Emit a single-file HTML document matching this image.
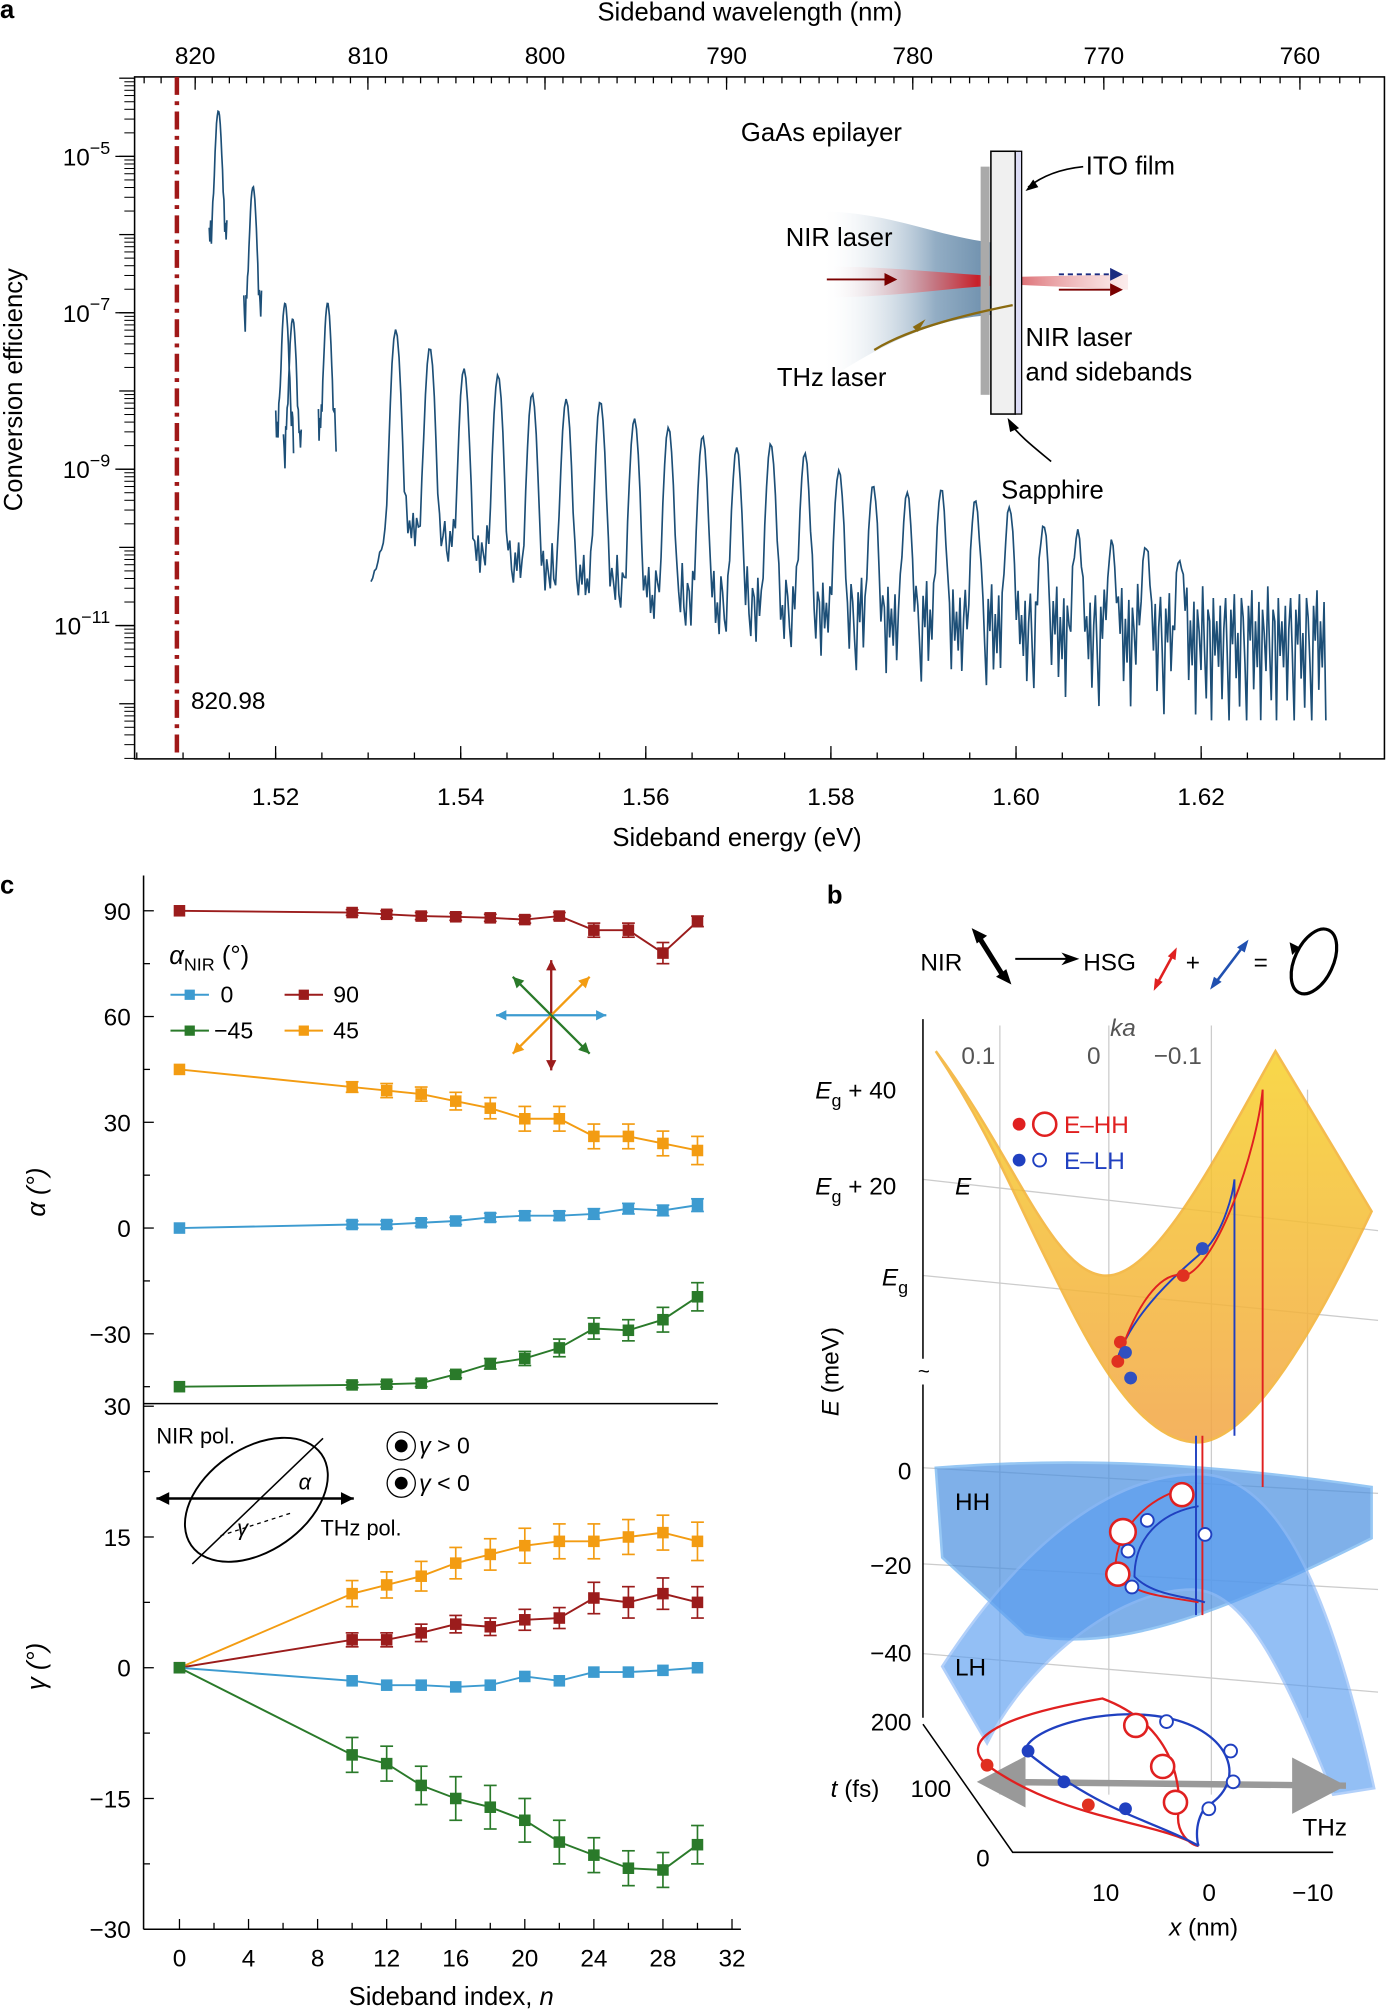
<!DOCTYPE html>
<html><head><meta charset="utf-8"><style>
html,body{margin:0;padding:0;background:#fff}
svg{display:block;font-family:"Liberation Sans",Arial,sans-serif}
</style></head><body>
<svg id="fig" width="1387" height="2010" viewBox="0 0 1082 1568" xmlns="http://www.w3.org/2000/svg">
<defs>
<linearGradient id="beamG" x1="0" x2="1" y1="0" y2="0"><stop offset="0" stop-color="#fff" stop-opacity="0"/><stop offset="0.6" stop-color="#5f86a8" stop-opacity="0.8"/><stop offset="1" stop-color="#3e6a90"/></linearGradient>
<linearGradient id="redG" x1="0" x2="1"><stop offset="0" stop-color="#fff" stop-opacity="0"/><stop offset="0.5" stop-color="#c8202a"/><stop offset="1" stop-color="#f3c0c0" stop-opacity="0.3"/></linearGradient>
<linearGradient id="yelG" x1="0" x2="0" y1="0" y2="1"><stop offset="0" stop-color="#f7d12a"/><stop offset="1" stop-color="#f3a545"/></linearGradient>
</defs>

<text x="0" y="14" font-size="20" font-weight="bold">a</text>
<rect x="105" y="60" width="975" height="532" fill="none" stroke="#000" stroke-width="1.2"/>
<text x="585" y="16" font-size="20" text-anchor="middle">Sideband wavelength (nm)</text>
<text x="575" y="660" font-size="20" text-anchor="middle">Sideband energy (eV)</text>
<text transform="translate(17,304) rotate(-90)" font-size="20" text-anchor="middle">Conversion efficiency</text>
<g id="axA"></g>
<line x1="138" y1="60" x2="138" y2="592" stroke="#a01818" stroke-width="3.5" stroke-dasharray="14,5,3,5"/>
<text x="149" y="553" font-size="19">820.98</text>
<g id="spec"></g>

<g>
<path d="M640,165 C700,165 740,190 790,190 L790,245 C740,245 700,260 640,300 Z" fill="url(#beamG)" opacity="0.85"/>
<path d="M645,208 C700,208 740,214 790,216 L880,214 L880,226 L790,222 C740,224 700,232 645,232 Z" fill="url(#redG)"/>
<rect x="765" y="130" width="7" height="178" fill="#aaa"/>
<rect x="773" y="118" width="19" height="205" fill="#f0f0f0" stroke="#000" stroke-width="1.2"/>
<rect x="792" y="118" width="5" height="205" fill="#dcdcf5" stroke="#000" stroke-width="1"/>
<line x1="645" y1="218" x2="690" y2="218" stroke="#7a0000" stroke-width="1.5"/><path d="M690,213 L700,218 L690,223Z" fill="#7a0000"/>
<line x1="826" y1="226" x2="866" y2="226" stroke="#7a0000" stroke-width="1.5"/><path d="M866,221 L876,226 L866,231Z" fill="#7a0000"/>
<line x1="826" y1="214" x2="866" y2="214" stroke="#1a2a80" stroke-width="1.5" stroke-dasharray="4,3"/><path d="M866,209 L876,214 L866,219Z" fill="#1a2a80"/>
<path d="M682,273 C700,262 730,250 790,238" fill="none" stroke="#8a6a10" stroke-width="1.8"/><path d="M712,255 L722,249 L716,259Z" fill="#8a6a10"/>
<path d="M845,130 C825,132 812,138 802,146" fill="none" stroke="#000" stroke-width="1.3"/><path d="M800,149 L806,140 L810,146Z"/>
<path d="M820,360 C808,350 795,340 788,330" fill="none" stroke="#000" stroke-width="1.3"/><path d="M786,326 L795,334 L788,337Z"/>
<text x="578" y="110" font-size="20">GaAs epilayer</text>
<text x="847" y="136" font-size="20">ITO film</text>
<text x="613" y="192" font-size="20">NIR laser</text>
<text x="606" y="301" font-size="20">THz laser</text>
<text x="800" y="270" font-size="20">NIR laser</text>
<text x="800" y="297" font-size="20">and sidebands</text>
<text x="781" y="389" font-size="20">Sapphire</text>
</g>

<text x="0" y="697" font-size="20" font-weight="bold">c</text>
<g id="axC"></g>
<text transform="translate(35,930) rotate(-90)" font-size="20" text-anchor="middle" font-style="italic">α (°)</text>
<text transform="translate(35,1300) rotate(-90)" font-size="20" text-anchor="middle" font-style="italic">γ (°)</text>
<text x="352" y="1564" font-size="20" text-anchor="middle">Sideband index, <tspan font-style="italic">n</tspan></text>
<g id="seriesC"></g>
<g font-size="18">
<text x="132" y="752" font-style="italic" font-size="20">α<tspan font-size="14" dy="5" font-style="normal">NIR</tspan><tspan dy="-5" font-style="normal"> (°)</tspan></text>
<g><line x1="133" y1="776" x2="163" y2="776" stroke="#3d9bd0" stroke-width="1.5"/><rect x="144" y="772" width="8" height="8" fill="#3d9bd0"/><text x="172" y="782">0</text></g>
<g><line x1="222" y1="776" x2="252" y2="776" stroke="#9b1c1c" stroke-width="1.5"/><rect x="233" y="772" width="8" height="8" fill="#9b1c1c"/><text x="260" y="782">90</text></g>
<g><line x1="133" y1="804" x2="163" y2="804" stroke="#2a7a2a" stroke-width="1.5"/><rect x="144" y="800" width="8" height="8" fill="#2a7a2a"/><text x="167" y="810">−45</text></g>
<g><line x1="222" y1="804" x2="252" y2="804" stroke="#f39c12" stroke-width="1.5"/><rect x="233" y="800" width="8" height="8" fill="#f39c12"/><text x="260" y="810">45</text></g>
</g>
<g stroke-width="1.8">
<line x1="387" y1="792" x2="473" y2="792" stroke="#3d9bd0"/><path d="M387,792 l8,-4 v8Z M473,792 l-8,-4 v8Z" fill="#3d9bd0"/>
<line x1="430" y1="749" x2="430" y2="835" stroke="#9b1c1c"/><path d="M430,749 l-4,8 h8Z M430,835 l-4,-8 h8Z" fill="#9b1c1c"/>
<line x1="400" y1="822" x2="460" y2="762" stroke="#f39c12"/><path d="M400,822 l3,-9 l6,6Z M460,762 l-3,9 l-6,-6Z" fill="#f39c12"/>
<line x1="400" y1="762" x2="460" y2="822" stroke="#2a7a2a"/><path d="M400,762 l9,3 l-6,6Z M460,822 l-9,-3 l6,-6Z" fill="#2a7a2a"/>
</g>
<g font-size="17">
<ellipse cx="200" cy="1170" rx="62" ry="40" transform="rotate(-35 200 1170)" fill="none" stroke="#000" stroke-width="1.5"/>
<line x1="122" y1="1169" x2="276" y2="1169" stroke="#000" stroke-width="2"/><path d="M122,1169 l10,-5 v10Z M276,1169 l-10,-5 v10Z"/>
<line x1="150" y1="1220" x2="252" y2="1122" stroke="#000" stroke-width="1.2"/>
<line x1="172" y1="1198" x2="228" y2="1180" stroke="#000" stroke-width="1" stroke-dasharray="3,3"/>
<text x="122" y="1126">NIR pol.</text><text x="250" y="1198">THz pol.</text>
<text x="233" y="1162" font-style="italic">α</text><text x="185" y="1198" font-style="italic">γ</text>
<circle cx="313" cy="1128" r="11" fill="none" stroke="#000"/><circle cx="313" cy="1128" r="5"/>
<circle cx="313" cy="1157" r="11" fill="none" stroke="#000"/><circle cx="313" cy="1157" r="5"/>
<text x="327" y="1134" font-size="18"><tspan font-style="italic">γ</tspan> &gt; 0</text>
<text x="327" y="1163" font-size="18"><tspan font-style="italic">γ</tspan> &lt; 0</text>
</g>

<g>
<text x="645" y="705" font-size="20" font-weight="bold">b</text>
<text x="718" y="757" font-size="19">NIR</text>
<path d="M763,730 L783,762" stroke="#000" stroke-width="4"/><path d="M758,724 l4,12 l8,-6Z M789,768 l-4,-12 l-8,6Z"/>
<line x1="792" y1="748" x2="835" y2="748" stroke="#000" stroke-width="1.5"/><path d="M842,748 l-14,-5 l4,5 l-4,5Z"/>
<text x="845" y="757" font-size="19">HSG</text>
<path d="M903,767 L915,745" stroke="#e02020" stroke-width="2"/><path d="M918,739 l-1,10 l-6,-3Z M900,773 l1,-10 l6,3Z" fill="#e02020"/>
<text x="925" y="757" font-size="19">+</text>
<path d="M948,767 L970,738" stroke="#2050b0" stroke-width="2"/><path d="M974,733 l-3,10 l-6,-4Z M944,772 l3,-10 l6,4Z" fill="#2050b0"/>
<text x="978" y="757" font-size="19">=</text>
<ellipse cx="1025" cy="750" rx="15" ry="27" transform="rotate(25 1025 750)" fill="none" stroke="#000" stroke-width="2.5"/>
<path d="M1006,735 l2,10 l6,-6Z"/>
<g stroke="#ccc" stroke-width="1" fill="none">
<line x1="780" y1="800" x2="780" y2="1400"/><line x1="865" y1="800" x2="865" y2="1400"/><line x1="945" y1="800" x2="945" y2="1400"/><line x1="1020" y1="850" x2="1020" y2="1340"/>
<line x1="720" y1="920" x2="1075" y2="960"/><line x1="720" y1="995" x2="1075" y2="1030"/><line x1="720" y1="1145" x2="1075" y2="1165"/><line x1="720" y1="1220" x2="1075" y2="1240"/><line x1="720" y1="1290" x2="1075" y2="1320"/>
</g>
<line x1="720" y1="795" x2="720" y2="1060" stroke="#000" stroke-width="1.2"/>
<line x1="720" y1="1080" x2="720" y2="1340" stroke="#000" stroke-width="1.2"/>
<text x="716" y="1075" font-size="16">~</text>
<path d="M730,820 C790,900 820,990 860,995 C900,1000 950,900 995,820 L1070,945 C1020,1050 970,1130 930,1125 C880,1120 840,1030 815,980 C790,930 770,880 730,820Z" fill="url(#yelG)" opacity="0.85" stroke="#f3b030" stroke-width="2"/>
<path d="M730,1145 C800,1140 900,1135 1070,1160 L1070,1200 C950,1260 870,1290 800,1275 L735,1215Z" fill="#4a90e0" opacity="0.7" stroke="#6ab0f0" stroke-width="2"/>
<path d="M735,1300 C800,1200 870,1150 935,1150 C1000,1150 1040,1250 1072,1395 L1040,1400 C1000,1300 970,1240 930,1240 C870,1240 800,1300 770,1360Z" fill="#5a9df0" opacity="0.65" stroke="#8ab8f8" stroke-width="2"/>
<path d="M870,1065 C880,1030 910,1000 940,975 C955,960 962,930 963,920 L963,1120" fill="none" stroke="#2040c0" stroke-width="1.5"/>
<path d="M872,1062 C885,1020 905,990 925,995 C950,985 980,900 985,850 L985,1160" fill="none" stroke="#e02020" stroke-width="1.5"/>
<line x1="933" y1="1120" x2="933" y2="1260" stroke="#2040c0" stroke-width="1.5"/>
<line x1="938" y1="1120" x2="938" y2="1260" stroke="#e02020" stroke-width="1.5"/>
<path d="M930,1160 C900,1165 870,1190 870,1225 C880,1245 910,1245 935,1250" fill="none" stroke="#e02020" stroke-width="1.5"/>
<path d="M935,1175 C905,1180 885,1200 885,1230 C900,1245 925,1245 940,1250" fill="none" stroke="#2040c0" stroke-width="1.5"/>
<g fill="#fff" stroke="#e02020" stroke-width="2"><circle cx="922" cy="1166" r="9"/><circle cx="876" cy="1195" r="10"/><circle cx="872" cy="1228" r="9"/></g>
<g fill="#fff" stroke="#2040c0" stroke-width="1.5"><circle cx="895" cy="1186" r="5"/><circle cx="940" cy="1197" r="5"/><circle cx="883" cy="1238" r="5"/><circle cx="880" cy="1210" r="5"/></g>
<g fill="#e03020"><circle cx="874" cy="1047" r="5"/><circle cx="872" cy="1062" r="5"/><circle cx="923" cy="995" r="5"/></g>
<g fill="#3050c0"><circle cx="878" cy="1055" r="5"/><circle cx="882" cy="1075" r="5"/><circle cx="938" cy="974" r="5"/></g>
<path d="M720,1345 L790,1445 L1040,1445" fill="none" stroke="#000" stroke-width="1.2"/>
<path d="M770,1390 L1050,1393" stroke="#999" stroke-width="5"/><path d="M762,1390 l38,-20 v40Z M1050,1393 l-42,-22 v44Z" fill="#999"/>
<path d="M935,1440 C900,1420 830,1420 770,1377 C750,1360 770,1340 860,1325 C900,1340 920,1370 920,1410 C915,1430 930,1440 935,1440" fill="none" stroke="#e02020" stroke-width="1.8"/>
<path d="M935,1440 C900,1420 860,1415 800,1366 C800,1350 860,1330 910,1340 C960,1350 975,1390 940,1410 C930,1425 935,1440 935,1440" fill="none" stroke="#2040c0" stroke-width="1.8"/>
<g fill="#fff" stroke="#e02020" stroke-width="2"><circle cx="886" cy="1346" r="9"/><circle cx="907" cy="1378" r="9"/><circle cx="917" cy="1406" r="9"/></g>
<g fill="#fff" stroke="#2040c0" stroke-width="1.5"><circle cx="910" cy="1343" r="5"/><circle cx="960" cy="1366" r="5"/><circle cx="962" cy="1390" r="5"/><circle cx="943" cy="1411" r="5"/></g>
<g fill="#e03020"><circle cx="770" cy="1377" r="5"/><circle cx="849" cy="1408" r="5"/></g>
<g fill="#2040c0"><circle cx="802" cy="1366" r="5"/><circle cx="830" cy="1390" r="5"/><circle cx="878" cy="1411" r="5"/></g>
<g font-size="19" fill="#000">
<text x="750" y="830" fill="#555">0.1</text><text x="848" y="830" fill="#555">0</text><text x="900" y="830" fill="#555">−0.1</text>
<text x="866" y="808" font-style="italic" fill="#555">ka</text>
<text x="636" y="857"><tspan font-style="italic">E</tspan><tspan font-size="14" dy="6">g</tspan><tspan dy="-6"> + 40</tspan></text>
<text x="636" y="932"><tspan font-style="italic">E</tspan><tspan font-size="14" dy="6">g</tspan><tspan dy="-6"> + 20</tspan></text>
<text x="688" y="1003"><tspan font-style="italic">E</tspan><tspan font-size="14" dy="6">g</tspan></text>
<text x="745" y="932" font-style="italic">E</text>
<circle cx="795" cy="877" r="5" fill="#e02020"/><circle cx="815" cy="877" r="9" fill="none" stroke="#e02020" stroke-width="2"/><text x="830" y="884" fill="#e02020">E–HH</text>
<circle cx="795" cy="905" r="5" fill="#2040c0"/><circle cx="811" cy="905" r="5" fill="none" stroke="#2040c0" stroke-width="1.5"/><text x="830" y="912" fill="#2040c0">E–LH</text>
<text transform="translate(654,1070) rotate(-90)" text-anchor="middle"><tspan font-style="italic">E</tspan> (meV)</text>
<text x="711" y="1154" text-anchor="end">0</text><text x="711" y="1228" text-anchor="end">−20</text><text x="711" y="1296" text-anchor="end">−40</text>
<text x="745" y="1178">HH</text><text x="745" y="1307">LH</text>
<text x="711" y="1350" text-anchor="end">200</text><text x="742" y="1402" text-anchor="end">100</text><text x="686" y="1402" text-anchor="end"><tspan font-style="italic">t</tspan> (fs)</text><text x="772" y="1456" text-anchor="end">0</text>
<text x="852" y="1483">10</text><text x="938" y="1483">0</text><text x="1008" y="1483">−10</text>
<text x="912" y="1510"><tspan font-style="italic">x</tspan> (nm)</text>
<text x="1016" y="1432">THz</text>
</g>
</g>
</svg>

<script>
const NS='http://www.w3.org/2000/svg';
function mk(tag,attrs,parent){const e=document.createElementNS(NS,tag);for(const k in attrs)e.setAttribute(k,attrs[k]);parent.appendChild(e);return e;}

/* ---------- Panel A data ---------- */
const peakEnergies=[1.53298,1.53666,1.54035,1.54403,1.54772,1.55140,1.55508,1.55877,1.56245,1.56614,1.56982,1.57350,1.57719,1.58087,1.58456,1.58824,1.59192,1.59561,1.59929,1.60298,1.60666,1.61034,1.61403,1.61771];
const peakLogHeights=[-7.22,-7.45,-7.72,-7.80,-8.04,-8.11,-8.14,-8.36,-8.47,-8.58,-8.73,-8.68,-8.80,-9.02,-9.22,-9.31,-9.27,-9.41,-9.50,-9.73,-9.82,-9.99,-10.02,-10.20];
const earlyPeakEnergies=[1.51382,1.51756,1.52102,1.52185,1.52562];
const earlyPeakLogHeights=[-4.44,-5.41,-6.90,-7.10,-6.90];
const floorEnergies=[1.5305,1.5335,1.545,1.56,1.58,1.60,1.62,1.6335];
const floorLogs=[-11.8,-10.1,-10.55,-10.85,-10.95,-11.05,-11.1,-11.1];
const noisePattern=[0.15,-0.45,0.35,-0.9,0.05,0.45,-0.3,-1.3,0.3,-0.15,0.5,-0.6,0.0,-1.0,0.45,0.2,-0.4,-1.6,0.35,-0.1,0.55,-0.75,0.15,-0.45,0.4,-1.2,0.3,0.0,-0.5,0.6,-0.2,-0.9,0.3,0.15,-1.4,0.45,-0.3];
const nmTicks=[820,810,800,790,780,770,760];
const eTicks=[1.52,1.54,1.56,1.58,1.60,1.62];
const decadeTicks=[-5,-7,-9,-11];

const xE=e=>215+(e-1.52)*7220;
const yL=l=>122-(l+5)*61;
const xNm=nm=>xE(1239.84/nm)-5;

const axA=document.getElementById('axA');
eTicks.forEach(t=>{const x=xE(t);mk('line',{x1:x,y1:592,x2:x,y2:582,stroke:'#000'},axA);
 const tx=mk('text',{x:x,y:628,'font-size':19,'text-anchor':'middle'},axA);tx.textContent=t.toFixed(2);});
for(let e=1.505;e<1.635;e+=0.005){const x=xE(e);if(x>106&&x<1079)mk('line',{x1:x,y1:592,x2:x,y2:587,stroke:'#000'},axA);}
nmTicks.forEach(t=>{const x=xNm(t);mk('line',{x1:x,y1:60,x2:x,y2:70,stroke:'#000'},axA);
 const tx=mk('text',{x:x,y:50,'font-size':19,'text-anchor':'middle'},axA);tx.textContent=t;});
for(let nm=823;nm>=757;nm-=1){const x=xNm(nm);if(x>106&&x<1079)mk('line',{x1:x,y1:60,x2:x,y2:65,stroke:'#000'},axA);}
decadeTicks.forEach(d=>{const y=yL(d);mk('line',{x1:105,y1:y,x2:90,y2:y,stroke:'#000'},axA);
 const tx=mk('text',{x:86,y:y+7,'font-size':19,'text-anchor':'end'},axA);tx.textContent='10';
 const s=mk('tspan',{dy:-9,'font-size':14},tx);s.textContent=(d<0?'−':'')+Math.abs(d);});
for(let d=-4;d>=-13;d--){for(let m=2;m<=9;m++){const y=yL(d-1+Math.log10(m));if(y>60&&y<592)mk('line',{x1:105,y1:y,x2:97,y2:y,stroke:'#000','stroke-width':0.8},axA);}
 const y=yL(d);if(y>60&&y<592)mk('line',{x1:105,y1:y,x2:93,y2:y,stroke:'#000'},axA);}

function floorAt(e){for(let i=0;i<floorEnergies.length-1;i++){if(e<=floorEnergies[i+1]){const f=(e-floorEnergies[i])/(floorEnergies[i+1]-floorEnergies[i]);return floorLogs[i]+f*(floorLogs[i+1]-floorLogs[i]);}}return floorLogs[floorLogs.length-1];}
function specLog(e,i){let s=Math.pow(10,floorAt(e)+noisePattern[i%noisePattern.length]);
 const g=0.00028;peakEnergies.forEach((p,k)=>{const d=(e-p)/g;s+=Math.pow(10,peakLogHeights[k])*(Math.exp(-d*d/2)+0.012/(1+d*d/4));});
 return Math.log10(s);}
const spec=document.getElementById('spec');
let d='';let i=0;
for(let e=1.5303;e<=1.6335;e+=0.00019,i++){const l=specLog(e,i);d+=(d?'L':'M')+xE(e).toFixed(1)+','+Math.min(yL(l),562).toFixed(1);}
const main=mk('path',{d:d,fill:'none',stroke:'#1d4f77','stroke-width':1.3},spec);


earlyPeakEnergies.forEach((p,k)=>{let dd='';const g=0.00022;let j=k*5;
 for(let e=p-0.0010;e<=p+0.0010;e+=0.00008,j++){const dx=(e-p)/g;const l=Math.log10(Math.pow(10,earlyPeakLogHeights[k])*(Math.exp(-dx*dx/2)+0.03/(1+dx*dx/4))+Math.pow(10,earlyPeakLogHeights[k]-1.6+0.4*noisePattern[j%noisePattern.length]));dd+=(dd?'L':'M')+xE(e).toFixed(1)+','+yL(l).toFixed(1);}
 const pe=mk('path',{d:dd,fill:'none',stroke:'#1d4f77','stroke-width':1.3},spec);
 
 });

/* ---------- Panel C data ---------- */
const sidebandIndex=[0,10,12,14,16,18,20,22,24,26,28,30];
const alpha90=[90,89.5,89,88.5,88.3,88,87.5,88.5,84.5,84.5,78,87];
const alpha45=[45,40,39,38,36,34,31,31,26,26,24,22];
const alpha0=[0,1,1,1.5,2,3,3.5,3.5,4,5.5,5,6.5];
const alphaM45=[-45,-44.5,-44.3,-44,-41.5,-38.5,-37,-34,-28.5,-29,-26,-19.5];
const alpha90Err=[0.5,0.8,1,1,1,1,1,1,2,2,3,1.5];
const alpha45Err=[0.5,1.5,2,2,2.5,3,3.5,3.5,3.5,3.5,3.5,4];
const alpha0Err=[0.5,1,1,1,1,1.2,1.3,1.3,1.5,1.5,1.5,1.8];
const alphaM45Err=[0.5,0.8,0.8,1,1,1.5,2,2.5,3,3,3.5,4];
const gamma45=[0,8.5,9.5,10.5,12,13,14,14.5,14.5,15,15.5,14.5];
const gamma90=[0,3.2,3.2,4,5,4.7,5.5,5.7,8,7.5,8.5,7.5];
const gamma0=[0,-1.5,-2,-2,-2.2,-2,-1,-1.5,-0.5,-0.5,-0.3,0];
const gammaM45=[0,-10,-11,-13.5,-15,-16,-17.5,-20,-21.5,-23,-23.2,-20.3];
const gamma45Err=[0,1.5,1.5,1.7,1.8,1.8,2,2,2,2,2,2.2];
const gamma90Err=[0,0.8,0.8,1,1,1,1.2,1.2,1.8,1.8,1.8,1.8];
const gamma0Err=[0,0.5,0.5,0.5,0.6,0.6,0.6,0.5,0.5,0.5,0.5,0.5];
const gammaM45Err=[0,2,2,2.2,2.5,2.5,2.5,2.5,2,2,2,2.2];
const nTicks=[0,4,8,12,16,20,24,28,32];
const alphaTicks=[90,60,30,0,-30];
const gammaTicks=[30,15,0,-15,-30];

const xN=n=>140+n*13.47;
const yA=a=>958-a*2.75;
const yG=g=>1301-g*6.8;

const axC=document.getElementById('axC');
mk('line',{x1:112,y1:683,x2:112,y2:1505,stroke:'#000','stroke-width':1.2},axC);
mk('line',{x1:112,y1:1505,x2:578,y2:1505,stroke:'#000','stroke-width':1.2},axC);
mk('line',{x1:112,y1:1095,x2:560,y2:1095,stroke:'#000','stroke-width':1.2},axC);
nTicks.forEach(t=>{const x=xN(t);mk('line',{x1:x,y1:1505,x2:x,y2:1497,stroke:'#000'},axC);
 const tx=mk('text',{x:x,y:1534,'font-size':19,'text-anchor':'middle'},axC);tx.textContent=t;});
for(let t=2;t<32;t+=4){mk('line',{x1:xN(t),y1:1505,x2:xN(t),y2:1500,stroke:'#000'},axC);}
alphaTicks.forEach(t=>{const y=yA(t);mk('line',{x1:112,y1:y,x2:120,y2:y,stroke:'#000'},axC);
 const tx=mk('text',{x:102,y:y+7,'font-size':19,'text-anchor':'end'},axC);tx.textContent=(t<0?'−':'')+Math.abs(t);});
for(let t=-45;t<=90;t+=15){if(t%30)mk('line',{x1:112,y1:yA(t),x2:117,y2:yA(t),stroke:'#000'},axC);}
gammaTicks.forEach(t=>{const y=yG(t);mk('line',{x1:112,y1:y,x2:120,y2:y,stroke:'#000'},axC);
 const tx=mk('text',{x:102,y:y+7,'font-size':19,'text-anchor':'end'},axC);tx.textContent=(t<0?'−':'')+Math.abs(t);});
for(let t=-22.5;t<=22.5;t+=15){mk('line',{x1:112,y1:yG(t),x2:117,y2:yG(t),stroke:'#000'},axC);}

const sc=document.getElementById('seriesC');
function drawSeries(vals,errs,yf,color,name){
 const g=mk('g',{},sc);
 
 
 let d='';vals.forEach((v,k)=>{d+=(k?'L':'M')+xN(sidebandIndex[k])+','+yf(v);});
 mk('path',{d:d,fill:'none',stroke:color,'stroke-width':1.5},g);
 vals.forEach((v,k)=>{const x=xN(sidebandIndex[k]);const e=errs[k];
  if(e>0.6){const y1=yf(v+e),y2=yf(v-e);
   mk('line',{x1:x,y1:y1,x2:x,y2:y2,stroke:color,'stroke-width':1.3},g);
   mk('line',{x1:x-5,y1:y1,x2:x+5,y2:y1,stroke:color,'stroke-width':1.3},g);
   mk('line',{x1:x-5,y1:y2,x2:x+5,y2:y2,stroke:color,'stroke-width':1.3},g);}
  const r=mk('rect',{x:x-4.5,y:yf(v)-4.5,width:9,height:9,fill:color},g);
  
  });
}
drawSeries(alpha90,alpha90Err,yA,'#9b1c1c','alpha-90-series');
drawSeries(alpha45,alpha45Err,yA,'#f39c12','alpha-45-series');
drawSeries(alpha0,alpha0Err,yA,'#3d9bd0','alpha-0-series');
drawSeries(alphaM45,alphaM45Err,yA,'#2a7a2a','alpha-m45-series');
drawSeries(gamma45,gamma45Err,yG,'#f39c12','gamma-45-series');
drawSeries(gamma90,gamma90Err,yG,'#9b1c1c','gamma-90-series');
drawSeries(gamma0,gamma0Err,yG,'#3d9bd0','gamma-0-series');
drawSeries(gammaM45,gammaM45Err,yG,'#2a7a2a','gamma-m45-series');
</script>
</body></html>
